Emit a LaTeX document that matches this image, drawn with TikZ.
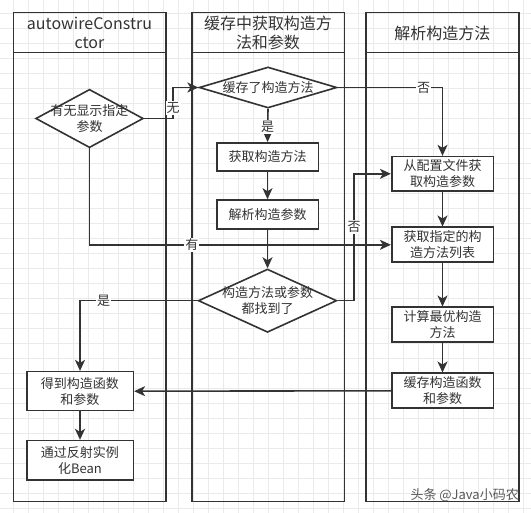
\documentclass[tikz,border=0pt]{standalone}
\usepackage{fontspec}
\setmainfont{Noto Sans CJK SC}
\usepackage{xcolor}
\usepackage{tikz}
\usetikzlibrary{shapes.geometric,arrows.meta}
\definecolor{ink}{HTML}{333333}
\definecolor{gridgray}{HTML}{EAEAEA}

\begin{document}
\begin{tikzpicture}[x=1pt,y=-1pt,
    lane/.style={draw=ink,line width=1.6pt},
    head/.style={font=\fontsize{16}{19}\selectfont,text=ink,align=center},
    proc/.style={draw=ink,line width=1.6pt,fill=white,minimum width=101.6pt,minimum height=35pt,
                 inner sep=0pt,font=\fontsize{13}{16}\selectfont,text=ink,align=center},
    decide/.style={diamond,draw=ink,line width=1.6pt,fill=white,inner sep=0pt},
    dtext/.style={font=\fontsize{13}{16}\selectfont,text=ink,align=center},
    flow/.style={draw=ink,line width=1.6pt,-{Stealth[length=11pt,width=10pt,inset=3pt]}},
    lbl/.style={fill=white,inner sep=1pt,font=\fontsize{13}{16}\selectfont,text=ink}]
    \useasboundingbox (0,0) rectangle (531,513);

    % Grid
    \foreach \g in {-2,13,...,528} {
      \draw[gridgray,line width=0.6pt] (\g,0) -- (\g,513);
      \draw[gridgray,line width=0.6pt] (0,\g) -- (531,\g);
    }

    % Lanes
    \foreach \l/\r in {13.3/165.7,191.7/344.3,366/518.7} {
      \draw[lane] (\l,12.7) rectangle (\r,501.7);
      \draw[lane] (\l,52.7) -- (\r,52.7);
    }
    \node[head] (h1) at (89.5,33) {autowireConstru\\ctor};
    \node[head] (h2) at (268,33) {缓存中获取构造方\\法和参数};
    \node[head] (h3) at (442.3,33) {解析构造方法};

    % Decisions
    \node[decide,minimum width=107.6pt,minimum height=58.4pt,
          label={[dtext]center:{有无显示指定\\参数}}] (given) at (89.5,118.5) {};
    \node[decide,minimum width=137.7pt,minimum height=41pt,
          label={[dtext]center:{缓存了构造方法}}] (cached) at (268,87.5) {};
    \node[decide,minimum width=138.4pt,minimum height=63.3pt,
          label={[dtext]center:{构造方法或参数\\都找到了}}] (found) at (267.5,300.7) {};

    % Steps
    \node[proc,minimum height=28.3pt] (getctor) at (267.5,156.9) {获取构造方法};
    \node[proc,minimum height=29pt] (parse) at (267.5,214.5) {解析构造参数};
    \node[proc,minimum height=34.3pt] (fromcfg) at (442.5,173.8) {从配置文件获\\取构造参数};
    \node[proc] (list) at (442.5,244.8) {获取指定的构\\造方法列表};
    \node[proc] (best) at (442.5,324.8) {计算最优构造\\方法};
    \node[proc] (store) at (442.5,390.8) {缓存构造函数\\和参数};
    \node[proc,minimum width=106.6pt,minimum height=39pt] (got) at (80,391.2) {得到构造函数\\和参数};
    \node[proc,minimum width=106.6pt,minimum height=39.3pt] (inst) at (80,460.3) {通过反射实例\\化Bean};

    % Arrows
    \draw[flow] (given.east) -- ++(29,0) |- node[lbl,pos=0.17]{无} (cached.west);
    \draw[flow] (cached.east) -| node[lbl,pos=0.41]{否} (fromcfg.north);
    \draw[flow] (cached.south) -- node[lbl,pos=0.55]{是} (getctor.north);
    \draw[flow] (getctor) -- (parse);
    \draw[flow] (parse) -- (found.north);
    \draw[flow] (found.east) -- ++(16.5,0) |- node[lbl,pos=0.29]{否} (fromcfg.west);
    \draw[flow] (found.west) -| node[lbl,pos=0.4]{是} (got.north);
    \draw[flow] (given.south) |- node[lbl,pos=0.67]{有} (list.west);
    \draw[flow] (fromcfg) -- (list);
    \draw[flow] (list) -- (best);
    \draw[flow] (best) -- (store);
    \draw[flow] (store.west) -- (got.east);
    \draw[flow] (got) -- (inst);

    % Watermark
    \node[anchor=east,text=black!65,font=\fontsize{13}{16}\selectfont,inner sep=0pt] (mark) at (519,495) {头条 @Java小码农};
\end{tikzpicture}
\end{document}
